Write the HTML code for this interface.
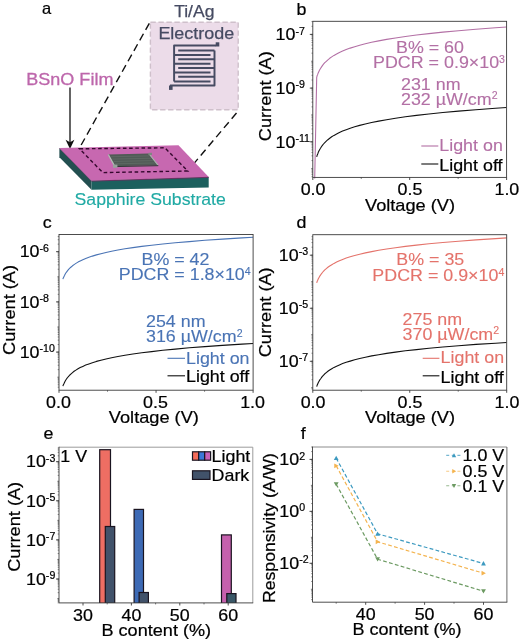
<!DOCTYPE html>
<html><head><meta charset="utf-8"><title>Figure</title>
<style>html,body{margin:0;padding:0;background:#fff}svg{display:block}text{font-family:"Liberation Sans",Arial,sans-serif}</style>
</head><body>
<svg width="520" height="641" viewBox="0 0 520 641">
<rect width="520" height="641" fill="#fff"/>
<clipPath id="cb"><rect x="312.8" y="21.3" width="193.8" height="157.1"/></clipPath><g clip-path="url(#cb)">
<polyline points="314.7,179.4 316.7,77.3 317.1,75.8 317.7,74.4 318.2,72.9 318.9,71.4 319.6,70.0 320.5,68.5 321.4,67.1 322.4,65.6 323.5,64.2 324.8,62.7 326.3,61.3 327.9,59.8 329.7,58.3 331.7,56.9 334.0,55.4 336.6,54.0 339.4,52.5 342.6,51.1 346.2,49.6 350.2,48.1 354.7,46.7 359.7,45.2 365.3,43.8 371.6,42.3 378.7,40.9 386.6,39.4 395.5,38.0 405.4,36.5 416.5,35.0 428.9,33.6 442.9,32.1 458.5,30.7 475.9,29.2 495.5,27.8 506.6,27.0" fill="none" stroke="#b370a5" stroke-width="1.1" stroke-linejoin="round"/>
<polyline points="316.7,156.9 317.1,155.4 317.7,154.0 318.2,152.6 318.9,151.1 319.6,149.7 320.5,148.3 321.4,146.8 322.4,145.4 323.5,144.0 324.8,142.6 326.3,141.1 327.9,139.7 329.7,138.3 331.7,136.8 334.0,135.4 336.6,134.0 339.4,132.6 342.6,131.1 346.2,129.7 350.2,128.3 354.7,126.8 359.7,125.4 365.3,124.0 371.6,122.5 378.7,121.1 386.6,119.7 395.5,118.3 405.4,116.8 416.5,115.4 428.9,114.0 442.9,112.5 458.5,111.1 475.9,109.7 495.5,108.2 506.6,107.5" fill="none" stroke="#111" stroke-width="1.1" stroke-linejoin="round"/>
</g>
<rect x="312.8" y="21.3" width="193.8" height="156.1" fill="none" stroke="#3a3a3a" stroke-width="0.9"/>
<line x1="312.8" y1="177.4" x2="312.8" y2="180" stroke="#3a3a3a" stroke-width="0.9"/>
<text x="300.69" y="195.3" font-size="17" fill="#000" stroke="#000" stroke-width="0.22" textLength="24.81" lengthAdjust="spacingAndGlyphs">0.0</text>
<line x1="409.7" y1="177.4" x2="409.7" y2="180" stroke="#3a3a3a" stroke-width="0.9"/>
<text x="397.59" y="195.3" font-size="17" fill="#000" stroke="#000" stroke-width="0.22" textLength="24.81" lengthAdjust="spacingAndGlyphs">0.5</text>
<line x1="506.6" y1="177.4" x2="506.6" y2="180" stroke="#3a3a3a" stroke-width="0.9"/>
<text x="494.49" y="195.3" font-size="17" fill="#000" stroke="#000" stroke-width="0.22" textLength="24.81" lengthAdjust="spacingAndGlyphs">1.0</text>
<line x1="361.25" y1="177.4" x2="361.25" y2="178.9" stroke="#3a3a3a" stroke-width="0.7"/>
<line x1="458.15" y1="177.4" x2="458.15" y2="178.9" stroke="#3a3a3a" stroke-width="0.7"/>
<text x="365" y="210.6" font-size="17" fill="#000" stroke="#000" stroke-width="0.22" textLength="90" lengthAdjust="spacingAndGlyphs">Voltage (V)</text>
<line x1="309.8" y1="34.4" x2="312.8" y2="34.4" stroke="#3a3a3a" stroke-width="0.9"/>
<text x="275.6" y="40.1" font-size="17" fill="#000" stroke="#000" stroke-width="0.22" textLength="19.86" lengthAdjust="spacingAndGlyphs">10</text>
<text x="295.46" y="34.5" font-size="10.6" fill="#000" stroke="#000" stroke-width="0.22" textLength="9.43" lengthAdjust="spacingAndGlyphs">-7</text>
<line x1="309.8" y1="88.1" x2="312.8" y2="88.1" stroke="#3a3a3a" stroke-width="0.9"/>
<text x="275.6" y="93.8" font-size="17" fill="#000" stroke="#000" stroke-width="0.22" textLength="19.86" lengthAdjust="spacingAndGlyphs">10</text>
<text x="295.46" y="88.2" font-size="10.6" fill="#000" stroke="#000" stroke-width="0.22" textLength="9.43" lengthAdjust="spacingAndGlyphs">-9</text>
<line x1="309.8" y1="141.8" x2="312.8" y2="141.8" stroke="#3a3a3a" stroke-width="0.9"/>
<text x="275.6" y="147.5" font-size="17" fill="#000" stroke="#000" stroke-width="0.22" textLength="19.86" lengthAdjust="spacingAndGlyphs">10</text>
<text x="295.46" y="141.9" font-size="10.6" fill="#000" stroke="#000" stroke-width="0.22" textLength="14.53" lengthAdjust="spacingAndGlyphs">-11</text>
<line x1="311.5" y1="26.32" x2="312.8" y2="26.32" stroke="#3a3a3a" stroke-width="0.6"/>
<line x1="311.5" y1="21.59" x2="312.8" y2="21.59" stroke="#3a3a3a" stroke-width="0.6"/>
<line x1="311.2" y1="34.4" x2="312.8" y2="34.4" stroke="#3a3a3a" stroke-width="0.7"/>
<line x1="311.5" y1="53.17" x2="312.8" y2="53.17" stroke="#3a3a3a" stroke-width="0.6"/>
<line x1="311.5" y1="48.44" x2="312.8" y2="48.44" stroke="#3a3a3a" stroke-width="0.6"/>
<line x1="311.5" y1="45.08" x2="312.8" y2="45.08" stroke="#3a3a3a" stroke-width="0.6"/>
<line x1="311.5" y1="42.48" x2="312.8" y2="42.48" stroke="#3a3a3a" stroke-width="0.6"/>
<line x1="311.5" y1="40.36" x2="312.8" y2="40.36" stroke="#3a3a3a" stroke-width="0.6"/>
<line x1="311.5" y1="38.56" x2="312.8" y2="38.56" stroke="#3a3a3a" stroke-width="0.6"/>
<line x1="311.5" y1="37" x2="312.8" y2="37" stroke="#3a3a3a" stroke-width="0.6"/>
<line x1="311.5" y1="35.63" x2="312.8" y2="35.63" stroke="#3a3a3a" stroke-width="0.6"/>
<line x1="311.2" y1="61.25" x2="312.8" y2="61.25" stroke="#3a3a3a" stroke-width="0.7"/>
<line x1="311.5" y1="80.02" x2="312.8" y2="80.02" stroke="#3a3a3a" stroke-width="0.6"/>
<line x1="311.5" y1="75.29" x2="312.8" y2="75.29" stroke="#3a3a3a" stroke-width="0.6"/>
<line x1="311.5" y1="71.93" x2="312.8" y2="71.93" stroke="#3a3a3a" stroke-width="0.6"/>
<line x1="311.5" y1="69.33" x2="312.8" y2="69.33" stroke="#3a3a3a" stroke-width="0.6"/>
<line x1="311.5" y1="67.21" x2="312.8" y2="67.21" stroke="#3a3a3a" stroke-width="0.6"/>
<line x1="311.5" y1="65.41" x2="312.8" y2="65.41" stroke="#3a3a3a" stroke-width="0.6"/>
<line x1="311.5" y1="63.85" x2="312.8" y2="63.85" stroke="#3a3a3a" stroke-width="0.6"/>
<line x1="311.5" y1="62.48" x2="312.8" y2="62.48" stroke="#3a3a3a" stroke-width="0.6"/>
<line x1="311.2" y1="88.1" x2="312.8" y2="88.1" stroke="#3a3a3a" stroke-width="0.7"/>
<line x1="311.5" y1="106.87" x2="312.8" y2="106.87" stroke="#3a3a3a" stroke-width="0.6"/>
<line x1="311.5" y1="102.14" x2="312.8" y2="102.14" stroke="#3a3a3a" stroke-width="0.6"/>
<line x1="311.5" y1="98.78" x2="312.8" y2="98.78" stroke="#3a3a3a" stroke-width="0.6"/>
<line x1="311.5" y1="96.18" x2="312.8" y2="96.18" stroke="#3a3a3a" stroke-width="0.6"/>
<line x1="311.5" y1="94.06" x2="312.8" y2="94.06" stroke="#3a3a3a" stroke-width="0.6"/>
<line x1="311.5" y1="92.26" x2="312.8" y2="92.26" stroke="#3a3a3a" stroke-width="0.6"/>
<line x1="311.5" y1="90.7" x2="312.8" y2="90.7" stroke="#3a3a3a" stroke-width="0.6"/>
<line x1="311.5" y1="89.33" x2="312.8" y2="89.33" stroke="#3a3a3a" stroke-width="0.6"/>
<line x1="311.2" y1="114.95" x2="312.8" y2="114.95" stroke="#3a3a3a" stroke-width="0.7"/>
<line x1="311.5" y1="133.72" x2="312.8" y2="133.72" stroke="#3a3a3a" stroke-width="0.6"/>
<line x1="311.5" y1="128.99" x2="312.8" y2="128.99" stroke="#3a3a3a" stroke-width="0.6"/>
<line x1="311.5" y1="125.63" x2="312.8" y2="125.63" stroke="#3a3a3a" stroke-width="0.6"/>
<line x1="311.5" y1="123.03" x2="312.8" y2="123.03" stroke="#3a3a3a" stroke-width="0.6"/>
<line x1="311.5" y1="120.91" x2="312.8" y2="120.91" stroke="#3a3a3a" stroke-width="0.6"/>
<line x1="311.5" y1="119.11" x2="312.8" y2="119.11" stroke="#3a3a3a" stroke-width="0.6"/>
<line x1="311.5" y1="117.55" x2="312.8" y2="117.55" stroke="#3a3a3a" stroke-width="0.6"/>
<line x1="311.5" y1="116.18" x2="312.8" y2="116.18" stroke="#3a3a3a" stroke-width="0.6"/>
<line x1="311.2" y1="141.8" x2="312.8" y2="141.8" stroke="#3a3a3a" stroke-width="0.7"/>
<line x1="311.5" y1="160.57" x2="312.8" y2="160.57" stroke="#3a3a3a" stroke-width="0.6"/>
<line x1="311.5" y1="155.84" x2="312.8" y2="155.84" stroke="#3a3a3a" stroke-width="0.6"/>
<line x1="311.5" y1="152.48" x2="312.8" y2="152.48" stroke="#3a3a3a" stroke-width="0.6"/>
<line x1="311.5" y1="149.88" x2="312.8" y2="149.88" stroke="#3a3a3a" stroke-width="0.6"/>
<line x1="311.5" y1="147.76" x2="312.8" y2="147.76" stroke="#3a3a3a" stroke-width="0.6"/>
<line x1="311.5" y1="145.96" x2="312.8" y2="145.96" stroke="#3a3a3a" stroke-width="0.6"/>
<line x1="311.5" y1="144.4" x2="312.8" y2="144.4" stroke="#3a3a3a" stroke-width="0.6"/>
<line x1="311.5" y1="143.03" x2="312.8" y2="143.03" stroke="#3a3a3a" stroke-width="0.6"/>
<line x1="311.2" y1="168.65" x2="312.8" y2="168.65" stroke="#3a3a3a" stroke-width="0.7"/>
<line x1="311.5" y1="176.73" x2="312.8" y2="176.73" stroke="#3a3a3a" stroke-width="0.6"/>
<line x1="311.5" y1="174.61" x2="312.8" y2="174.61" stroke="#3a3a3a" stroke-width="0.6"/>
<line x1="311.5" y1="172.81" x2="312.8" y2="172.81" stroke="#3a3a3a" stroke-width="0.6"/>
<line x1="311.5" y1="171.25" x2="312.8" y2="171.25" stroke="#3a3a3a" stroke-width="0.6"/>
<line x1="311.5" y1="169.88" x2="312.8" y2="169.88" stroke="#3a3a3a" stroke-width="0.6"/>
<text x="226.32" y="96.2" font-size="17" fill="#000" stroke="#000" stroke-width="0.22" textLength="89.96" lengthAdjust="spacingAndGlyphs" transform="rotate(-90 271.3 96.2)">Current (A)</text>
<text x="296.5" y="14.5" font-size="17" fill="#000" stroke="#000" stroke-width="0.22" textLength="9.93" lengthAdjust="spacingAndGlyphs">b</text>
<text x="396.01" y="52.6" font-size="17" fill="#b370a5" stroke="#b370a5" stroke-width="0.12" textLength="67.98" lengthAdjust="spacingAndGlyphs">B% = 60</text>
<text x="373.09" y="68.2" font-size="17" fill="#b370a5" stroke="#b370a5" stroke-width="0.12" textLength="126.02" lengthAdjust="spacingAndGlyphs">PDCR = 0.9×10</text>
<text x="499.1" y="62.6" font-size="10.6" fill="#b370a5" stroke="#b370a5" stroke-width="0.12" textLength="5.9" lengthAdjust="spacingAndGlyphs">3</text>
<text x="401" y="89.8" font-size="17" fill="#b370a5" stroke="#b370a5" stroke-width="0.12" textLength="59.54" lengthAdjust="spacingAndGlyphs">231 nm</text>
<text x="401" y="104.6" font-size="17" fill="#b370a5" stroke="#b370a5" stroke-width="0.12" textLength="90.63" lengthAdjust="spacingAndGlyphs">232 µW/cm</text>
<text x="491.63" y="99" font-size="10.6" fill="#b370a5" stroke="#b370a5" stroke-width="0.12" textLength="5.9" lengthAdjust="spacingAndGlyphs">2</text>
<line x1="421.3" y1="146" x2="438.3" y2="146" stroke="#b370a5" stroke-width="1.1"/>
<text x="439.3" y="151.2" font-size="17" fill="#b370a5" stroke="#b370a5" stroke-width="0.12" textLength="63.52" lengthAdjust="spacingAndGlyphs">Light on</text>
<line x1="421.3" y1="164" x2="438.3" y2="164" stroke="#111" stroke-width="1.1"/>
<text x="439.3" y="170.5" font-size="17" fill="#000" stroke="#000" stroke-width="0.22" textLength="63.19" lengthAdjust="spacingAndGlyphs">Light off</text>
<clipPath id="cc"><rect x="59" y="234.5" width="194.1" height="155.7"/></clipPath><g clip-path="url(#cc)">
<polyline points="62.9,279.1 63.3,277.9 63.9,276.7 64.5,275.5 65.1,274.2 65.8,273.0 66.7,271.8 67.6,270.6 68.6,269.4 69.8,268.2 71.1,267.0 72.5,265.8 74.1,264.6 75.9,263.4 78.0,262.1 80.2,260.9 82.8,259.7 85.7,258.5 88.9,257.3 92.4,256.1 96.4,254.9 100.9,253.7 106.0,252.5 111.6,251.2 117.9,250.0 125.0,248.8 132.9,247.6 141.8,246.4 151.7,245.2 162.8,244.0 175.3,242.8 189.3,241.6 204.9,240.3 222.4,239.1 242.0,237.9 253.1,237.3" fill="none" stroke="#4a74b5" stroke-width="1.1" stroke-linejoin="round"/>
<polyline points="62.9,386.1 63.3,384.9 63.9,383.7 64.5,382.4 65.1,381.2 65.8,380.0 66.7,378.7 67.6,377.5 68.6,376.3 69.8,375.0 71.1,373.8 72.5,372.6 74.1,371.3 75.9,370.1 78.0,368.8 80.2,367.6 82.8,366.4 85.7,365.1 88.9,363.9 92.4,362.7 96.4,361.4 100.9,360.2 106.0,359.0 111.6,357.7 117.9,356.5 125.0,355.3 132.9,354.0 141.8,352.8 151.7,351.6 162.8,350.3 175.3,349.1 189.3,347.8 204.9,346.6 222.4,345.4 242.0,344.1 253.1,343.5" fill="none" stroke="#111" stroke-width="1.1" stroke-linejoin="round"/>
</g>
<rect x="59" y="234.5" width="194.1" height="155.7" fill="none" stroke="#3a3a3a" stroke-width="0.9"/>
<line x1="59" y1="390.2" x2="59" y2="392.8" stroke="#3a3a3a" stroke-width="0.9"/>
<text x="46.09" y="408.1" font-size="17" fill="#000" stroke="#000" stroke-width="0.22" textLength="24.81" lengthAdjust="spacingAndGlyphs">0.0</text>
<line x1="156.05" y1="390.2" x2="156.05" y2="392.8" stroke="#3a3a3a" stroke-width="0.9"/>
<text x="143.14" y="408.1" font-size="17" fill="#000" stroke="#000" stroke-width="0.22" textLength="24.81" lengthAdjust="spacingAndGlyphs">0.5</text>
<line x1="253.1" y1="390.2" x2="253.1" y2="392.8" stroke="#3a3a3a" stroke-width="0.9"/>
<text x="240.19" y="408.1" font-size="17" fill="#000" stroke="#000" stroke-width="0.22" textLength="24.81" lengthAdjust="spacingAndGlyphs">1.0</text>
<line x1="107.53" y1="390.2" x2="107.53" y2="391.7" stroke="#3a3a3a" stroke-width="0.7"/>
<line x1="204.57" y1="390.2" x2="204.57" y2="391.7" stroke="#3a3a3a" stroke-width="0.7"/>
<text x="108.85" y="423.4" font-size="17" fill="#000" stroke="#000" stroke-width="0.22" textLength="90" lengthAdjust="spacingAndGlyphs">Voltage (V)</text>
<line x1="56" y1="251.7" x2="59" y2="251.7" stroke="#3a3a3a" stroke-width="0.9"/>
<text x="19.7" y="257.4" font-size="17" fill="#000" stroke="#000" stroke-width="0.22" textLength="19.86" lengthAdjust="spacingAndGlyphs">10</text>
<text x="39.56" y="251.8" font-size="10.6" fill="#000" stroke="#000" stroke-width="0.22" textLength="9.43" lengthAdjust="spacingAndGlyphs">-6</text>
<line x1="56" y1="301.9" x2="59" y2="301.9" stroke="#3a3a3a" stroke-width="0.9"/>
<text x="19.7" y="307.6" font-size="17" fill="#000" stroke="#000" stroke-width="0.22" textLength="19.86" lengthAdjust="spacingAndGlyphs">10</text>
<text x="39.56" y="302" font-size="10.6" fill="#000" stroke="#000" stroke-width="0.22" textLength="9.43" lengthAdjust="spacingAndGlyphs">-8</text>
<line x1="56" y1="352.1" x2="59" y2="352.1" stroke="#3a3a3a" stroke-width="0.9"/>
<text x="19.7" y="357.8" font-size="17" fill="#000" stroke="#000" stroke-width="0.22" textLength="19.86" lengthAdjust="spacingAndGlyphs">10</text>
<text x="39.56" y="352.2" font-size="10.6" fill="#000" stroke="#000" stroke-width="0.22" textLength="15.32" lengthAdjust="spacingAndGlyphs">-10</text>
<line x1="57.7" y1="244.14" x2="59" y2="244.14" stroke="#3a3a3a" stroke-width="0.6"/>
<line x1="57.7" y1="239.72" x2="59" y2="239.72" stroke="#3a3a3a" stroke-width="0.6"/>
<line x1="57.7" y1="236.59" x2="59" y2="236.59" stroke="#3a3a3a" stroke-width="0.6"/>
<line x1="57.4" y1="251.7" x2="59" y2="251.7" stroke="#3a3a3a" stroke-width="0.7"/>
<line x1="57.7" y1="269.24" x2="59" y2="269.24" stroke="#3a3a3a" stroke-width="0.6"/>
<line x1="57.7" y1="264.82" x2="59" y2="264.82" stroke="#3a3a3a" stroke-width="0.6"/>
<line x1="57.7" y1="261.69" x2="59" y2="261.69" stroke="#3a3a3a" stroke-width="0.6"/>
<line x1="57.7" y1="259.26" x2="59" y2="259.26" stroke="#3a3a3a" stroke-width="0.6"/>
<line x1="57.7" y1="257.27" x2="59" y2="257.27" stroke="#3a3a3a" stroke-width="0.6"/>
<line x1="57.7" y1="255.59" x2="59" y2="255.59" stroke="#3a3a3a" stroke-width="0.6"/>
<line x1="57.7" y1="254.13" x2="59" y2="254.13" stroke="#3a3a3a" stroke-width="0.6"/>
<line x1="57.7" y1="252.85" x2="59" y2="252.85" stroke="#3a3a3a" stroke-width="0.6"/>
<line x1="57.4" y1="276.8" x2="59" y2="276.8" stroke="#3a3a3a" stroke-width="0.7"/>
<line x1="57.7" y1="294.34" x2="59" y2="294.34" stroke="#3a3a3a" stroke-width="0.6"/>
<line x1="57.7" y1="289.92" x2="59" y2="289.92" stroke="#3a3a3a" stroke-width="0.6"/>
<line x1="57.7" y1="286.79" x2="59" y2="286.79" stroke="#3a3a3a" stroke-width="0.6"/>
<line x1="57.7" y1="284.36" x2="59" y2="284.36" stroke="#3a3a3a" stroke-width="0.6"/>
<line x1="57.7" y1="282.37" x2="59" y2="282.37" stroke="#3a3a3a" stroke-width="0.6"/>
<line x1="57.7" y1="280.69" x2="59" y2="280.69" stroke="#3a3a3a" stroke-width="0.6"/>
<line x1="57.7" y1="279.23" x2="59" y2="279.23" stroke="#3a3a3a" stroke-width="0.6"/>
<line x1="57.7" y1="277.95" x2="59" y2="277.95" stroke="#3a3a3a" stroke-width="0.6"/>
<line x1="57.4" y1="301.9" x2="59" y2="301.9" stroke="#3a3a3a" stroke-width="0.7"/>
<line x1="57.7" y1="319.44" x2="59" y2="319.44" stroke="#3a3a3a" stroke-width="0.6"/>
<line x1="57.7" y1="315.02" x2="59" y2="315.02" stroke="#3a3a3a" stroke-width="0.6"/>
<line x1="57.7" y1="311.89" x2="59" y2="311.89" stroke="#3a3a3a" stroke-width="0.6"/>
<line x1="57.7" y1="309.46" x2="59" y2="309.46" stroke="#3a3a3a" stroke-width="0.6"/>
<line x1="57.7" y1="307.47" x2="59" y2="307.47" stroke="#3a3a3a" stroke-width="0.6"/>
<line x1="57.7" y1="305.79" x2="59" y2="305.79" stroke="#3a3a3a" stroke-width="0.6"/>
<line x1="57.7" y1="304.33" x2="59" y2="304.33" stroke="#3a3a3a" stroke-width="0.6"/>
<line x1="57.7" y1="303.05" x2="59" y2="303.05" stroke="#3a3a3a" stroke-width="0.6"/>
<line x1="57.4" y1="327" x2="59" y2="327" stroke="#3a3a3a" stroke-width="0.7"/>
<line x1="57.7" y1="344.54" x2="59" y2="344.54" stroke="#3a3a3a" stroke-width="0.6"/>
<line x1="57.7" y1="340.12" x2="59" y2="340.12" stroke="#3a3a3a" stroke-width="0.6"/>
<line x1="57.7" y1="336.99" x2="59" y2="336.99" stroke="#3a3a3a" stroke-width="0.6"/>
<line x1="57.7" y1="334.56" x2="59" y2="334.56" stroke="#3a3a3a" stroke-width="0.6"/>
<line x1="57.7" y1="332.57" x2="59" y2="332.57" stroke="#3a3a3a" stroke-width="0.6"/>
<line x1="57.7" y1="330.89" x2="59" y2="330.89" stroke="#3a3a3a" stroke-width="0.6"/>
<line x1="57.7" y1="329.43" x2="59" y2="329.43" stroke="#3a3a3a" stroke-width="0.6"/>
<line x1="57.7" y1="328.15" x2="59" y2="328.15" stroke="#3a3a3a" stroke-width="0.6"/>
<line x1="57.4" y1="352.1" x2="59" y2="352.1" stroke="#3a3a3a" stroke-width="0.7"/>
<line x1="57.7" y1="369.64" x2="59" y2="369.64" stroke="#3a3a3a" stroke-width="0.6"/>
<line x1="57.7" y1="365.22" x2="59" y2="365.22" stroke="#3a3a3a" stroke-width="0.6"/>
<line x1="57.7" y1="362.09" x2="59" y2="362.09" stroke="#3a3a3a" stroke-width="0.6"/>
<line x1="57.7" y1="359.66" x2="59" y2="359.66" stroke="#3a3a3a" stroke-width="0.6"/>
<line x1="57.7" y1="357.67" x2="59" y2="357.67" stroke="#3a3a3a" stroke-width="0.6"/>
<line x1="57.7" y1="355.99" x2="59" y2="355.99" stroke="#3a3a3a" stroke-width="0.6"/>
<line x1="57.7" y1="354.53" x2="59" y2="354.53" stroke="#3a3a3a" stroke-width="0.6"/>
<line x1="57.7" y1="353.25" x2="59" y2="353.25" stroke="#3a3a3a" stroke-width="0.6"/>
<line x1="57.4" y1="377.2" x2="59" y2="377.2" stroke="#3a3a3a" stroke-width="0.7"/>
<line x1="57.7" y1="387.19" x2="59" y2="387.19" stroke="#3a3a3a" stroke-width="0.6"/>
<line x1="57.7" y1="384.76" x2="59" y2="384.76" stroke="#3a3a3a" stroke-width="0.6"/>
<line x1="57.7" y1="382.77" x2="59" y2="382.77" stroke="#3a3a3a" stroke-width="0.6"/>
<line x1="57.7" y1="381.09" x2="59" y2="381.09" stroke="#3a3a3a" stroke-width="0.6"/>
<line x1="57.7" y1="379.63" x2="59" y2="379.63" stroke="#3a3a3a" stroke-width="0.6"/>
<line x1="57.7" y1="378.35" x2="59" y2="378.35" stroke="#3a3a3a" stroke-width="0.6"/>
<text x="-29.78" y="310" font-size="17" fill="#000" stroke="#000" stroke-width="0.22" textLength="89.96" lengthAdjust="spacingAndGlyphs" transform="rotate(-90 15.2 310)">Current (A)</text>
<text x="42.7" y="227.7" font-size="17" fill="#000" stroke="#000" stroke-width="0.22" textLength="8.93" lengthAdjust="spacingAndGlyphs">c</text>
<text x="141.51" y="264.6" font-size="17" fill="#4a74b5" stroke="#4a74b5" stroke-width="0.12" textLength="67.98" lengthAdjust="spacingAndGlyphs">B% = 42</text>
<text x="118.79" y="280.3" font-size="17" fill="#4a74b5" stroke="#4a74b5" stroke-width="0.12" textLength="126.02" lengthAdjust="spacingAndGlyphs">PDCR = 1.8×10</text>
<text x="244.8" y="274.7" font-size="10.6" fill="#4a74b5" stroke="#4a74b5" stroke-width="0.12" textLength="5.9" lengthAdjust="spacingAndGlyphs">4</text>
<text x="146" y="327" font-size="17" fill="#4a74b5" stroke="#4a74b5" stroke-width="0.12" textLength="59.54" lengthAdjust="spacingAndGlyphs">254 nm</text>
<text x="146" y="342.2" font-size="17" fill="#4a74b5" stroke="#4a74b5" stroke-width="0.12" textLength="90.63" lengthAdjust="spacingAndGlyphs">316 µW/cm</text>
<text x="236.63" y="336.6" font-size="10.6" fill="#4a74b5" stroke="#4a74b5" stroke-width="0.12" textLength="5.9" lengthAdjust="spacingAndGlyphs">2</text>
<line x1="167.5" y1="358.3" x2="185" y2="358.3" stroke="#4a74b5" stroke-width="1.1"/>
<text x="186" y="363.6" font-size="17" fill="#4a74b5" stroke="#4a74b5" stroke-width="0.12" textLength="63.52" lengthAdjust="spacingAndGlyphs">Light on</text>
<line x1="167.5" y1="375.8" x2="185" y2="375.8" stroke="#111" stroke-width="1.1"/>
<text x="186" y="382.4" font-size="17" fill="#000" stroke="#000" stroke-width="0.22" textLength="63.19" lengthAdjust="spacingAndGlyphs">Light off</text>
<clipPath id="cd"><rect x="312.8" y="234.7" width="193.9" height="155.5"/></clipPath><g clip-path="url(#cd)">
<polyline points="316.7,282.9 317.1,281.6 317.7,280.3 318.2,279.0 318.9,277.7 319.6,276.4 320.5,275.1 321.4,273.8 322.4,272.5 323.6,271.2 324.8,269.9 326.3,268.6 327.9,267.3 329.7,266.0 331.8,264.7 334.0,263.4 336.6,262.1 339.4,260.7 342.6,259.4 346.2,258.1 350.2,256.8 354.7,255.5 359.7,254.2 365.4,252.9 371.7,251.6 378.7,250.3 386.6,249.0 395.5,247.7 405.4,246.4 416.5,245.1 429.0,243.8 442.9,242.5 458.5,241.2 476.0,239.9 495.6,238.6 506.7,237.9" fill="none" stroke="#e4736b" stroke-width="1.1" stroke-linejoin="round"/>
<polyline points="316.7,386.6 317.1,385.3 317.7,384.1 318.2,382.8 318.9,381.5 319.6,380.2 320.5,379.0 321.4,377.7 322.4,376.4 323.6,375.1 324.8,373.8 326.3,372.6 327.9,371.3 329.7,370.0 331.8,368.7 334.0,367.4 336.6,366.2 339.4,364.9 342.6,363.6 346.2,362.3 350.2,361.1 354.7,359.8 359.7,358.5 365.4,357.2 371.7,355.9 378.7,354.7 386.6,353.4 395.5,352.1 405.4,350.8 416.5,349.6 429.0,348.3 442.9,347.0 458.5,345.7 476.0,344.4 495.6,343.2 506.7,342.5" fill="none" stroke="#111" stroke-width="1.1" stroke-linejoin="round"/>
</g>
<rect x="312.8" y="234.7" width="193.9" height="155.5" fill="none" stroke="#3a3a3a" stroke-width="0.9"/>
<line x1="312.8" y1="390.2" x2="312.8" y2="392.8" stroke="#3a3a3a" stroke-width="0.9"/>
<text x="300.69" y="408.1" font-size="17" fill="#000" stroke="#000" stroke-width="0.22" textLength="24.81" lengthAdjust="spacingAndGlyphs">0.0</text>
<line x1="409.75" y1="390.2" x2="409.75" y2="392.8" stroke="#3a3a3a" stroke-width="0.9"/>
<text x="397.64" y="408.1" font-size="17" fill="#000" stroke="#000" stroke-width="0.22" textLength="24.81" lengthAdjust="spacingAndGlyphs">0.5</text>
<line x1="506.7" y1="390.2" x2="506.7" y2="392.8" stroke="#3a3a3a" stroke-width="0.9"/>
<text x="494.59" y="408.1" font-size="17" fill="#000" stroke="#000" stroke-width="0.22" textLength="24.81" lengthAdjust="spacingAndGlyphs">1.0</text>
<line x1="361.27" y1="390.2" x2="361.27" y2="391.7" stroke="#3a3a3a" stroke-width="0.7"/>
<line x1="458.23" y1="390.2" x2="458.23" y2="391.7" stroke="#3a3a3a" stroke-width="0.7"/>
<text x="365.05" y="423.4" font-size="17" fill="#000" stroke="#000" stroke-width="0.22" textLength="90" lengthAdjust="spacingAndGlyphs">Voltage (V)</text>
<line x1="309.8" y1="255.2" x2="312.8" y2="255.2" stroke="#3a3a3a" stroke-width="0.9"/>
<text x="278.8" y="260.9" font-size="17" fill="#000" stroke="#000" stroke-width="0.22" textLength="19.86" lengthAdjust="spacingAndGlyphs">10</text>
<text x="298.66" y="255.3" font-size="10.6" fill="#000" stroke="#000" stroke-width="0.22" textLength="9.43" lengthAdjust="spacingAndGlyphs">-3</text>
<line x1="309.8" y1="308.25" x2="312.8" y2="308.25" stroke="#3a3a3a" stroke-width="0.9"/>
<text x="278.8" y="313.95" font-size="17" fill="#000" stroke="#000" stroke-width="0.22" textLength="19.86" lengthAdjust="spacingAndGlyphs">10</text>
<text x="298.66" y="308.35" font-size="10.6" fill="#000" stroke="#000" stroke-width="0.22" textLength="9.43" lengthAdjust="spacingAndGlyphs">-5</text>
<line x1="309.8" y1="361.3" x2="312.8" y2="361.3" stroke="#3a3a3a" stroke-width="0.9"/>
<text x="278.8" y="367" font-size="17" fill="#000" stroke="#000" stroke-width="0.22" textLength="19.86" lengthAdjust="spacingAndGlyphs">10</text>
<text x="298.66" y="361.4" font-size="10.6" fill="#000" stroke="#000" stroke-width="0.22" textLength="9.43" lengthAdjust="spacingAndGlyphs">-7</text>
<line x1="311.5" y1="247.22" x2="312.8" y2="247.22" stroke="#3a3a3a" stroke-width="0.6"/>
<line x1="311.5" y1="242.56" x2="312.8" y2="242.56" stroke="#3a3a3a" stroke-width="0.6"/>
<line x1="311.5" y1="239.25" x2="312.8" y2="239.25" stroke="#3a3a3a" stroke-width="0.6"/>
<line x1="311.5" y1="236.68" x2="312.8" y2="236.68" stroke="#3a3a3a" stroke-width="0.6"/>
<line x1="311.2" y1="255.2" x2="312.8" y2="255.2" stroke="#3a3a3a" stroke-width="0.7"/>
<line x1="311.5" y1="273.72" x2="312.8" y2="273.72" stroke="#3a3a3a" stroke-width="0.6"/>
<line x1="311.5" y1="269.06" x2="312.8" y2="269.06" stroke="#3a3a3a" stroke-width="0.6"/>
<line x1="311.5" y1="265.75" x2="312.8" y2="265.75" stroke="#3a3a3a" stroke-width="0.6"/>
<line x1="311.5" y1="263.18" x2="312.8" y2="263.18" stroke="#3a3a3a" stroke-width="0.6"/>
<line x1="311.5" y1="261.08" x2="312.8" y2="261.08" stroke="#3a3a3a" stroke-width="0.6"/>
<line x1="311.5" y1="259.3" x2="312.8" y2="259.3" stroke="#3a3a3a" stroke-width="0.6"/>
<line x1="311.5" y1="257.77" x2="312.8" y2="257.77" stroke="#3a3a3a" stroke-width="0.6"/>
<line x1="311.5" y1="256.41" x2="312.8" y2="256.41" stroke="#3a3a3a" stroke-width="0.6"/>
<line x1="311.2" y1="281.7" x2="312.8" y2="281.7" stroke="#3a3a3a" stroke-width="0.7"/>
<line x1="311.5" y1="300.22" x2="312.8" y2="300.22" stroke="#3a3a3a" stroke-width="0.6"/>
<line x1="311.5" y1="295.56" x2="312.8" y2="295.56" stroke="#3a3a3a" stroke-width="0.6"/>
<line x1="311.5" y1="292.25" x2="312.8" y2="292.25" stroke="#3a3a3a" stroke-width="0.6"/>
<line x1="311.5" y1="289.68" x2="312.8" y2="289.68" stroke="#3a3a3a" stroke-width="0.6"/>
<line x1="311.5" y1="287.58" x2="312.8" y2="287.58" stroke="#3a3a3a" stroke-width="0.6"/>
<line x1="311.5" y1="285.8" x2="312.8" y2="285.8" stroke="#3a3a3a" stroke-width="0.6"/>
<line x1="311.5" y1="284.27" x2="312.8" y2="284.27" stroke="#3a3a3a" stroke-width="0.6"/>
<line x1="311.5" y1="282.91" x2="312.8" y2="282.91" stroke="#3a3a3a" stroke-width="0.6"/>
<line x1="311.2" y1="308.2" x2="312.8" y2="308.2" stroke="#3a3a3a" stroke-width="0.7"/>
<line x1="311.5" y1="326.72" x2="312.8" y2="326.72" stroke="#3a3a3a" stroke-width="0.6"/>
<line x1="311.5" y1="322.06" x2="312.8" y2="322.06" stroke="#3a3a3a" stroke-width="0.6"/>
<line x1="311.5" y1="318.75" x2="312.8" y2="318.75" stroke="#3a3a3a" stroke-width="0.6"/>
<line x1="311.5" y1="316.18" x2="312.8" y2="316.18" stroke="#3a3a3a" stroke-width="0.6"/>
<line x1="311.5" y1="314.08" x2="312.8" y2="314.08" stroke="#3a3a3a" stroke-width="0.6"/>
<line x1="311.5" y1="312.3" x2="312.8" y2="312.3" stroke="#3a3a3a" stroke-width="0.6"/>
<line x1="311.5" y1="310.77" x2="312.8" y2="310.77" stroke="#3a3a3a" stroke-width="0.6"/>
<line x1="311.5" y1="309.41" x2="312.8" y2="309.41" stroke="#3a3a3a" stroke-width="0.6"/>
<line x1="311.2" y1="334.7" x2="312.8" y2="334.7" stroke="#3a3a3a" stroke-width="0.7"/>
<line x1="311.5" y1="353.22" x2="312.8" y2="353.22" stroke="#3a3a3a" stroke-width="0.6"/>
<line x1="311.5" y1="348.56" x2="312.8" y2="348.56" stroke="#3a3a3a" stroke-width="0.6"/>
<line x1="311.5" y1="345.25" x2="312.8" y2="345.25" stroke="#3a3a3a" stroke-width="0.6"/>
<line x1="311.5" y1="342.68" x2="312.8" y2="342.68" stroke="#3a3a3a" stroke-width="0.6"/>
<line x1="311.5" y1="340.58" x2="312.8" y2="340.58" stroke="#3a3a3a" stroke-width="0.6"/>
<line x1="311.5" y1="338.8" x2="312.8" y2="338.8" stroke="#3a3a3a" stroke-width="0.6"/>
<line x1="311.5" y1="337.27" x2="312.8" y2="337.27" stroke="#3a3a3a" stroke-width="0.6"/>
<line x1="311.5" y1="335.91" x2="312.8" y2="335.91" stroke="#3a3a3a" stroke-width="0.6"/>
<line x1="311.2" y1="361.2" x2="312.8" y2="361.2" stroke="#3a3a3a" stroke-width="0.7"/>
<line x1="311.5" y1="379.72" x2="312.8" y2="379.72" stroke="#3a3a3a" stroke-width="0.6"/>
<line x1="311.5" y1="375.06" x2="312.8" y2="375.06" stroke="#3a3a3a" stroke-width="0.6"/>
<line x1="311.5" y1="371.75" x2="312.8" y2="371.75" stroke="#3a3a3a" stroke-width="0.6"/>
<line x1="311.5" y1="369.18" x2="312.8" y2="369.18" stroke="#3a3a3a" stroke-width="0.6"/>
<line x1="311.5" y1="367.08" x2="312.8" y2="367.08" stroke="#3a3a3a" stroke-width="0.6"/>
<line x1="311.5" y1="365.3" x2="312.8" y2="365.3" stroke="#3a3a3a" stroke-width="0.6"/>
<line x1="311.5" y1="363.77" x2="312.8" y2="363.77" stroke="#3a3a3a" stroke-width="0.6"/>
<line x1="311.5" y1="362.41" x2="312.8" y2="362.41" stroke="#3a3a3a" stroke-width="0.6"/>
<line x1="311.2" y1="387.7" x2="312.8" y2="387.7" stroke="#3a3a3a" stroke-width="0.7"/>
<line x1="311.5" y1="388.91" x2="312.8" y2="388.91" stroke="#3a3a3a" stroke-width="0.6"/>
<text x="226.32" y="312.3" font-size="17" fill="#000" stroke="#000" stroke-width="0.22" textLength="89.96" lengthAdjust="spacingAndGlyphs" transform="rotate(-90 271.3 312.3)">Current (A)</text>
<text x="296.5" y="227.9" font-size="17" fill="#000" stroke="#000" stroke-width="0.22" textLength="9.93" lengthAdjust="spacingAndGlyphs">d</text>
<text x="396.31" y="265.3" font-size="17" fill="#e4736b" stroke="#e4736b" stroke-width="0.12" textLength="67.98" lengthAdjust="spacingAndGlyphs">B% = 35</text>
<text x="372.39" y="281.3" font-size="17" fill="#e4736b" stroke="#e4736b" stroke-width="0.12" textLength="126.02" lengthAdjust="spacingAndGlyphs">PDCR = 0.9×10</text>
<text x="498.4" y="275.7" font-size="10.6" fill="#e4736b" stroke="#e4736b" stroke-width="0.12" textLength="5.9" lengthAdjust="spacingAndGlyphs">4</text>
<text x="402.6" y="325.2" font-size="17" fill="#e4736b" stroke="#e4736b" stroke-width="0.12" textLength="59.54" lengthAdjust="spacingAndGlyphs">275 nm</text>
<text x="402.6" y="339.9" font-size="17" fill="#e4736b" stroke="#e4736b" stroke-width="0.12" textLength="90.63" lengthAdjust="spacingAndGlyphs">370 µW/cm</text>
<text x="493.23" y="334.3" font-size="10.6" fill="#e4736b" stroke="#e4736b" stroke-width="0.12" textLength="5.9" lengthAdjust="spacingAndGlyphs">2</text>
<line x1="422.7" y1="358.3" x2="439.4" y2="358.3" stroke="#e4736b" stroke-width="1.1"/>
<text x="440.6" y="363.4" font-size="17" fill="#e4736b" stroke="#e4736b" stroke-width="0.12" textLength="63.52" lengthAdjust="spacingAndGlyphs">Light on</text>
<line x1="422.7" y1="375.8" x2="439.4" y2="375.8" stroke="#111" stroke-width="1.1"/>
<text x="440.6" y="382.5" font-size="17" fill="#000" stroke="#000" stroke-width="0.22" textLength="63.19" lengthAdjust="spacingAndGlyphs">Light off</text>
<clipPath id="ce"><rect x="59" y="447.2" width="193.8" height="155.7"/></clipPath><g clip-path="url(#ce)">
<rect x="99.7" y="449.7" width="10.8" height="153.8" fill="#ee6e63" stroke="#1a1420" stroke-width="1.2"/>
<rect x="105.3" y="526.5" width="9.4" height="77" fill="#41526a" stroke="#1a1420" stroke-width="1.2"/>
<rect x="134.1" y="509.4" width="9.4" height="94.1" fill="#3d6ab5" stroke="#1a1420" stroke-width="1.2"/>
<rect x="139.1" y="592.5" width="9.3" height="11" fill="#41526a" stroke="#1a1420" stroke-width="1.2"/>
<rect x="221.5" y="534.9" width="9.8" height="68.6" fill="#c560ad" stroke="#1a1420" stroke-width="1.2"/>
<rect x="226.8" y="593.6" width="9.2" height="9.9" fill="#3a5868" stroke="#1a1420" stroke-width="1.2"/>
</g>
<polyline points="59.0,447.2 252.8,447.2" fill="none" stroke="#9c9c9c" stroke-width="1.0" stroke-linejoin="round"/>
<polyline points="252.8,447.2 252.8,602.9" fill="none" stroke="#9c9c9c" stroke-width="1.0" stroke-linejoin="round"/>
<polyline points="59.0,446.8 59.0,602.9 253.2,602.9" fill="none" stroke="#3a3a3a" stroke-width="0.9" stroke-linejoin="round"/>
<line x1="56" y1="461.7" x2="59" y2="461.7" stroke="#3a3a3a" stroke-width="0.9"/>
<text x="26" y="467.4" font-size="17" fill="#000" stroke="#000" stroke-width="0.22" textLength="19.86" lengthAdjust="spacingAndGlyphs">10</text>
<text x="45.86" y="461.8" font-size="10.6" fill="#000" stroke="#000" stroke-width="0.22" textLength="9.43" lengthAdjust="spacingAndGlyphs">-3</text>
<line x1="56" y1="500.8" x2="59" y2="500.8" stroke="#3a3a3a" stroke-width="0.9"/>
<text x="26" y="506.5" font-size="17" fill="#000" stroke="#000" stroke-width="0.22" textLength="19.86" lengthAdjust="spacingAndGlyphs">10</text>
<text x="45.86" y="500.9" font-size="10.6" fill="#000" stroke="#000" stroke-width="0.22" textLength="9.43" lengthAdjust="spacingAndGlyphs">-5</text>
<line x1="56" y1="539.9" x2="59" y2="539.9" stroke="#3a3a3a" stroke-width="0.9"/>
<text x="26" y="545.6" font-size="17" fill="#000" stroke="#000" stroke-width="0.22" textLength="19.86" lengthAdjust="spacingAndGlyphs">10</text>
<text x="45.86" y="540" font-size="10.6" fill="#000" stroke="#000" stroke-width="0.22" textLength="9.43" lengthAdjust="spacingAndGlyphs">-7</text>
<line x1="56" y1="579" x2="59" y2="579" stroke="#3a3a3a" stroke-width="0.9"/>
<text x="26" y="584.7" font-size="17" fill="#000" stroke="#000" stroke-width="0.22" textLength="19.86" lengthAdjust="spacingAndGlyphs">10</text>
<text x="45.86" y="579.1" font-size="10.6" fill="#000" stroke="#000" stroke-width="0.22" textLength="9.43" lengthAdjust="spacingAndGlyphs">-9</text>
<line x1="57.7" y1="455.81" x2="59" y2="455.81" stroke="#3a3a3a" stroke-width="0.6"/>
<line x1="57.7" y1="452.37" x2="59" y2="452.37" stroke="#3a3a3a" stroke-width="0.6"/>
<line x1="57.7" y1="449.93" x2="59" y2="449.93" stroke="#3a3a3a" stroke-width="0.6"/>
<line x1="57.7" y1="448.04" x2="59" y2="448.04" stroke="#3a3a3a" stroke-width="0.6"/>
<line x1="57.4" y1="461.7" x2="59" y2="461.7" stroke="#3a3a3a" stroke-width="0.7"/>
<line x1="57.7" y1="475.36" x2="59" y2="475.36" stroke="#3a3a3a" stroke-width="0.6"/>
<line x1="57.7" y1="471.92" x2="59" y2="471.92" stroke="#3a3a3a" stroke-width="0.6"/>
<line x1="57.7" y1="469.48" x2="59" y2="469.48" stroke="#3a3a3a" stroke-width="0.6"/>
<line x1="57.7" y1="467.59" x2="59" y2="467.59" stroke="#3a3a3a" stroke-width="0.6"/>
<line x1="57.7" y1="466.04" x2="59" y2="466.04" stroke="#3a3a3a" stroke-width="0.6"/>
<line x1="57.7" y1="464.73" x2="59" y2="464.73" stroke="#3a3a3a" stroke-width="0.6"/>
<line x1="57.7" y1="463.59" x2="59" y2="463.59" stroke="#3a3a3a" stroke-width="0.6"/>
<line x1="57.7" y1="462.59" x2="59" y2="462.59" stroke="#3a3a3a" stroke-width="0.6"/>
<line x1="57.4" y1="481.25" x2="59" y2="481.25" stroke="#3a3a3a" stroke-width="0.7"/>
<line x1="57.7" y1="494.91" x2="59" y2="494.91" stroke="#3a3a3a" stroke-width="0.6"/>
<line x1="57.7" y1="491.47" x2="59" y2="491.47" stroke="#3a3a3a" stroke-width="0.6"/>
<line x1="57.7" y1="489.03" x2="59" y2="489.03" stroke="#3a3a3a" stroke-width="0.6"/>
<line x1="57.7" y1="487.14" x2="59" y2="487.14" stroke="#3a3a3a" stroke-width="0.6"/>
<line x1="57.7" y1="485.59" x2="59" y2="485.59" stroke="#3a3a3a" stroke-width="0.6"/>
<line x1="57.7" y1="484.28" x2="59" y2="484.28" stroke="#3a3a3a" stroke-width="0.6"/>
<line x1="57.7" y1="483.14" x2="59" y2="483.14" stroke="#3a3a3a" stroke-width="0.6"/>
<line x1="57.7" y1="482.14" x2="59" y2="482.14" stroke="#3a3a3a" stroke-width="0.6"/>
<line x1="57.4" y1="500.8" x2="59" y2="500.8" stroke="#3a3a3a" stroke-width="0.7"/>
<line x1="57.7" y1="514.46" x2="59" y2="514.46" stroke="#3a3a3a" stroke-width="0.6"/>
<line x1="57.7" y1="511.02" x2="59" y2="511.02" stroke="#3a3a3a" stroke-width="0.6"/>
<line x1="57.7" y1="508.58" x2="59" y2="508.58" stroke="#3a3a3a" stroke-width="0.6"/>
<line x1="57.7" y1="506.69" x2="59" y2="506.69" stroke="#3a3a3a" stroke-width="0.6"/>
<line x1="57.7" y1="505.14" x2="59" y2="505.14" stroke="#3a3a3a" stroke-width="0.6"/>
<line x1="57.7" y1="503.83" x2="59" y2="503.83" stroke="#3a3a3a" stroke-width="0.6"/>
<line x1="57.7" y1="502.69" x2="59" y2="502.69" stroke="#3a3a3a" stroke-width="0.6"/>
<line x1="57.7" y1="501.69" x2="59" y2="501.69" stroke="#3a3a3a" stroke-width="0.6"/>
<line x1="57.4" y1="520.35" x2="59" y2="520.35" stroke="#3a3a3a" stroke-width="0.7"/>
<line x1="57.7" y1="534.01" x2="59" y2="534.01" stroke="#3a3a3a" stroke-width="0.6"/>
<line x1="57.7" y1="530.57" x2="59" y2="530.57" stroke="#3a3a3a" stroke-width="0.6"/>
<line x1="57.7" y1="528.13" x2="59" y2="528.13" stroke="#3a3a3a" stroke-width="0.6"/>
<line x1="57.7" y1="526.24" x2="59" y2="526.24" stroke="#3a3a3a" stroke-width="0.6"/>
<line x1="57.7" y1="524.69" x2="59" y2="524.69" stroke="#3a3a3a" stroke-width="0.6"/>
<line x1="57.7" y1="523.38" x2="59" y2="523.38" stroke="#3a3a3a" stroke-width="0.6"/>
<line x1="57.7" y1="522.24" x2="59" y2="522.24" stroke="#3a3a3a" stroke-width="0.6"/>
<line x1="57.7" y1="521.24" x2="59" y2="521.24" stroke="#3a3a3a" stroke-width="0.6"/>
<line x1="57.4" y1="539.9" x2="59" y2="539.9" stroke="#3a3a3a" stroke-width="0.7"/>
<line x1="57.7" y1="553.56" x2="59" y2="553.56" stroke="#3a3a3a" stroke-width="0.6"/>
<line x1="57.7" y1="550.12" x2="59" y2="550.12" stroke="#3a3a3a" stroke-width="0.6"/>
<line x1="57.7" y1="547.68" x2="59" y2="547.68" stroke="#3a3a3a" stroke-width="0.6"/>
<line x1="57.7" y1="545.79" x2="59" y2="545.79" stroke="#3a3a3a" stroke-width="0.6"/>
<line x1="57.7" y1="544.24" x2="59" y2="544.24" stroke="#3a3a3a" stroke-width="0.6"/>
<line x1="57.7" y1="542.93" x2="59" y2="542.93" stroke="#3a3a3a" stroke-width="0.6"/>
<line x1="57.7" y1="541.79" x2="59" y2="541.79" stroke="#3a3a3a" stroke-width="0.6"/>
<line x1="57.7" y1="540.79" x2="59" y2="540.79" stroke="#3a3a3a" stroke-width="0.6"/>
<line x1="57.4" y1="559.45" x2="59" y2="559.45" stroke="#3a3a3a" stroke-width="0.7"/>
<line x1="57.7" y1="573.11" x2="59" y2="573.11" stroke="#3a3a3a" stroke-width="0.6"/>
<line x1="57.7" y1="569.67" x2="59" y2="569.67" stroke="#3a3a3a" stroke-width="0.6"/>
<line x1="57.7" y1="567.23" x2="59" y2="567.23" stroke="#3a3a3a" stroke-width="0.6"/>
<line x1="57.7" y1="565.34" x2="59" y2="565.34" stroke="#3a3a3a" stroke-width="0.6"/>
<line x1="57.7" y1="563.79" x2="59" y2="563.79" stroke="#3a3a3a" stroke-width="0.6"/>
<line x1="57.7" y1="562.48" x2="59" y2="562.48" stroke="#3a3a3a" stroke-width="0.6"/>
<line x1="57.7" y1="561.34" x2="59" y2="561.34" stroke="#3a3a3a" stroke-width="0.6"/>
<line x1="57.7" y1="560.34" x2="59" y2="560.34" stroke="#3a3a3a" stroke-width="0.6"/>
<line x1="57.4" y1="579" x2="59" y2="579" stroke="#3a3a3a" stroke-width="0.7"/>
<line x1="57.7" y1="592.66" x2="59" y2="592.66" stroke="#3a3a3a" stroke-width="0.6"/>
<line x1="57.7" y1="589.22" x2="59" y2="589.22" stroke="#3a3a3a" stroke-width="0.6"/>
<line x1="57.7" y1="586.78" x2="59" y2="586.78" stroke="#3a3a3a" stroke-width="0.6"/>
<line x1="57.7" y1="584.89" x2="59" y2="584.89" stroke="#3a3a3a" stroke-width="0.6"/>
<line x1="57.7" y1="583.34" x2="59" y2="583.34" stroke="#3a3a3a" stroke-width="0.6"/>
<line x1="57.7" y1="582.03" x2="59" y2="582.03" stroke="#3a3a3a" stroke-width="0.6"/>
<line x1="57.7" y1="580.89" x2="59" y2="580.89" stroke="#3a3a3a" stroke-width="0.6"/>
<line x1="57.7" y1="579.89" x2="59" y2="579.89" stroke="#3a3a3a" stroke-width="0.6"/>
<line x1="57.4" y1="598.55" x2="59" y2="598.55" stroke="#3a3a3a" stroke-width="0.7"/>
<line x1="57.7" y1="602.89" x2="59" y2="602.89" stroke="#3a3a3a" stroke-width="0.6"/>
<line x1="57.7" y1="601.58" x2="59" y2="601.58" stroke="#3a3a3a" stroke-width="0.6"/>
<line x1="57.7" y1="600.44" x2="59" y2="600.44" stroke="#3a3a3a" stroke-width="0.6"/>
<line x1="57.7" y1="599.44" x2="59" y2="599.44" stroke="#3a3a3a" stroke-width="0.6"/>
<line x1="83" y1="602.9" x2="83" y2="605.5" stroke="#3a3a3a" stroke-width="0.9"/>
<text x="73.07" y="620.9" font-size="17" fill="#000" stroke="#000" stroke-width="0.22" textLength="19.86" lengthAdjust="spacingAndGlyphs">30</text>
<line x1="131.4" y1="602.9" x2="131.4" y2="605.5" stroke="#3a3a3a" stroke-width="0.9"/>
<text x="121.47" y="620.9" font-size="17" fill="#000" stroke="#000" stroke-width="0.22" textLength="19.86" lengthAdjust="spacingAndGlyphs">40</text>
<line x1="179.8" y1="602.9" x2="179.8" y2="605.5" stroke="#3a3a3a" stroke-width="0.9"/>
<text x="169.87" y="620.9" font-size="17" fill="#000" stroke="#000" stroke-width="0.22" textLength="19.86" lengthAdjust="spacingAndGlyphs">50</text>
<line x1="228.2" y1="602.9" x2="228.2" y2="605.5" stroke="#3a3a3a" stroke-width="0.9"/>
<text x="218.27" y="620.9" font-size="17" fill="#000" stroke="#000" stroke-width="0.22" textLength="19.86" lengthAdjust="spacingAndGlyphs">60</text>
<line x1="107.2" y1="602.9" x2="107.2" y2="604.4" stroke="#3a3a3a" stroke-width="0.7"/>
<line x1="155.6" y1="602.9" x2="155.6" y2="604.4" stroke="#3a3a3a" stroke-width="0.7"/>
<line x1="204" y1="602.9" x2="204" y2="604.4" stroke="#3a3a3a" stroke-width="0.7"/>
<text x="101.46" y="636.2" font-size="17" fill="#000" stroke="#000" stroke-width="0.22" textLength="109.68" lengthAdjust="spacingAndGlyphs">B content (%)</text>
<text x="-24.58" y="526.8" font-size="17" fill="#000" stroke="#000" stroke-width="0.22" textLength="89.96" lengthAdjust="spacingAndGlyphs" transform="rotate(-90 20.4 526.8)">Current (A)</text>
<text x="43.6" y="439.2" font-size="17" fill="#000" stroke="#000" stroke-width="0.22" textLength="9.93" lengthAdjust="spacingAndGlyphs">e</text>
<text x="60.3" y="461.7" font-size="17" fill="#000" stroke="#000" stroke-width="0.22" textLength="26.79" lengthAdjust="spacingAndGlyphs">1 V</text>
<rect x="192.5" y="451.8" width="6.2" height="8.4" fill="#f26b5a" stroke="#1a1420" stroke-width="1.2"/>
<rect x="198.7" y="451.8" width="6" height="8.4" fill="#3b78d8" stroke="#1a1420" stroke-width="1.2"/>
<rect x="204.7" y="451.8" width="5.9" height="8.4" fill="#c661b8" stroke="#1a1420" stroke-width="1.2"/>
<text x="211.6" y="461.7" font-size="17" fill="#000" stroke="#000" stroke-width="0.22" textLength="38.71" lengthAdjust="spacingAndGlyphs">Light</text>
<rect x="192.5" y="470.8" width="17.5" height="8.6" fill="#41526a" stroke="#1a1420" stroke-width="1.2"/>
<text x="211.6" y="480.8" font-size="17" fill="#000" stroke="#000" stroke-width="0.22" textLength="37.69" lengthAdjust="spacingAndGlyphs">Dark</text>
<polyline points="312.5,447.0 506.9,447.0" fill="none" stroke="#8c8c8c" stroke-width="1.0" stroke-linejoin="round"/>
<polyline points="506.9,447.0 506.9,602.2" fill="none" stroke="#6a6a6a" stroke-width="1.0" stroke-linejoin="round"/>
<polyline points="312.5,446.6 312.5,602.2 507.3,602.2" fill="none" stroke="#3a3a3a" stroke-width="0.9" stroke-linejoin="round"/>
<line x1="309.5" y1="459.4" x2="312.5" y2="459.4" stroke="#3a3a3a" stroke-width="0.9"/>
<text x="279.3" y="465.1" font-size="17" fill="#000" stroke="#000" stroke-width="0.22" textLength="19.86" lengthAdjust="spacingAndGlyphs">10</text>
<text x="299.16" y="459.5" font-size="10.6" fill="#000" stroke="#000" stroke-width="0.22" textLength="5.9" lengthAdjust="spacingAndGlyphs">2</text>
<line x1="309.5" y1="511.35" x2="312.5" y2="511.35" stroke="#3a3a3a" stroke-width="0.9"/>
<text x="279.3" y="517.05" font-size="17" fill="#000" stroke="#000" stroke-width="0.22" textLength="19.86" lengthAdjust="spacingAndGlyphs">10</text>
<text x="299.16" y="511.45" font-size="10.6" fill="#000" stroke="#000" stroke-width="0.22" textLength="5.9" lengthAdjust="spacingAndGlyphs">0</text>
<line x1="309.5" y1="563.3" x2="312.5" y2="563.3" stroke="#3a3a3a" stroke-width="0.9"/>
<text x="279.3" y="569" font-size="17" fill="#000" stroke="#000" stroke-width="0.22" textLength="19.86" lengthAdjust="spacingAndGlyphs">10</text>
<text x="299.16" y="563.4" font-size="10.6" fill="#000" stroke="#000" stroke-width="0.22" textLength="9.43" lengthAdjust="spacingAndGlyphs">-2</text>
<line x1="311.2" y1="451.58" x2="312.5" y2="451.58" stroke="#3a3a3a" stroke-width="0.6"/>
<line x1="311.2" y1="447" x2="312.5" y2="447" stroke="#3a3a3a" stroke-width="0.6"/>
<line x1="310.9" y1="459.4" x2="312.5" y2="459.4" stroke="#3a3a3a" stroke-width="0.7"/>
<line x1="311.2" y1="477.56" x2="312.5" y2="477.56" stroke="#3a3a3a" stroke-width="0.6"/>
<line x1="311.2" y1="472.98" x2="312.5" y2="472.98" stroke="#3a3a3a" stroke-width="0.6"/>
<line x1="311.2" y1="469.74" x2="312.5" y2="469.74" stroke="#3a3a3a" stroke-width="0.6"/>
<line x1="311.2" y1="467.22" x2="312.5" y2="467.22" stroke="#3a3a3a" stroke-width="0.6"/>
<line x1="311.2" y1="465.16" x2="312.5" y2="465.16" stroke="#3a3a3a" stroke-width="0.6"/>
<line x1="311.2" y1="463.42" x2="312.5" y2="463.42" stroke="#3a3a3a" stroke-width="0.6"/>
<line x1="311.2" y1="461.92" x2="312.5" y2="461.92" stroke="#3a3a3a" stroke-width="0.6"/>
<line x1="311.2" y1="460.59" x2="312.5" y2="460.59" stroke="#3a3a3a" stroke-width="0.6"/>
<line x1="310.9" y1="485.38" x2="312.5" y2="485.38" stroke="#3a3a3a" stroke-width="0.7"/>
<line x1="311.2" y1="503.54" x2="312.5" y2="503.54" stroke="#3a3a3a" stroke-width="0.6"/>
<line x1="311.2" y1="498.96" x2="312.5" y2="498.96" stroke="#3a3a3a" stroke-width="0.6"/>
<line x1="311.2" y1="495.72" x2="312.5" y2="495.72" stroke="#3a3a3a" stroke-width="0.6"/>
<line x1="311.2" y1="493.2" x2="312.5" y2="493.2" stroke="#3a3a3a" stroke-width="0.6"/>
<line x1="311.2" y1="491.14" x2="312.5" y2="491.14" stroke="#3a3a3a" stroke-width="0.6"/>
<line x1="311.2" y1="489.4" x2="312.5" y2="489.4" stroke="#3a3a3a" stroke-width="0.6"/>
<line x1="311.2" y1="487.9" x2="312.5" y2="487.9" stroke="#3a3a3a" stroke-width="0.6"/>
<line x1="311.2" y1="486.57" x2="312.5" y2="486.57" stroke="#3a3a3a" stroke-width="0.6"/>
<line x1="310.9" y1="511.36" x2="312.5" y2="511.36" stroke="#3a3a3a" stroke-width="0.7"/>
<line x1="311.2" y1="529.52" x2="312.5" y2="529.52" stroke="#3a3a3a" stroke-width="0.6"/>
<line x1="311.2" y1="524.94" x2="312.5" y2="524.94" stroke="#3a3a3a" stroke-width="0.6"/>
<line x1="311.2" y1="521.7" x2="312.5" y2="521.7" stroke="#3a3a3a" stroke-width="0.6"/>
<line x1="311.2" y1="519.18" x2="312.5" y2="519.18" stroke="#3a3a3a" stroke-width="0.6"/>
<line x1="311.2" y1="517.12" x2="312.5" y2="517.12" stroke="#3a3a3a" stroke-width="0.6"/>
<line x1="311.2" y1="515.38" x2="312.5" y2="515.38" stroke="#3a3a3a" stroke-width="0.6"/>
<line x1="311.2" y1="513.88" x2="312.5" y2="513.88" stroke="#3a3a3a" stroke-width="0.6"/>
<line x1="311.2" y1="512.55" x2="312.5" y2="512.55" stroke="#3a3a3a" stroke-width="0.6"/>
<line x1="310.9" y1="537.34" x2="312.5" y2="537.34" stroke="#3a3a3a" stroke-width="0.7"/>
<line x1="311.2" y1="555.5" x2="312.5" y2="555.5" stroke="#3a3a3a" stroke-width="0.6"/>
<line x1="311.2" y1="550.92" x2="312.5" y2="550.92" stroke="#3a3a3a" stroke-width="0.6"/>
<line x1="311.2" y1="547.68" x2="312.5" y2="547.68" stroke="#3a3a3a" stroke-width="0.6"/>
<line x1="311.2" y1="545.16" x2="312.5" y2="545.16" stroke="#3a3a3a" stroke-width="0.6"/>
<line x1="311.2" y1="543.1" x2="312.5" y2="543.1" stroke="#3a3a3a" stroke-width="0.6"/>
<line x1="311.2" y1="541.36" x2="312.5" y2="541.36" stroke="#3a3a3a" stroke-width="0.6"/>
<line x1="311.2" y1="539.86" x2="312.5" y2="539.86" stroke="#3a3a3a" stroke-width="0.6"/>
<line x1="311.2" y1="538.53" x2="312.5" y2="538.53" stroke="#3a3a3a" stroke-width="0.6"/>
<line x1="310.9" y1="563.32" x2="312.5" y2="563.32" stroke="#3a3a3a" stroke-width="0.7"/>
<line x1="311.2" y1="581.48" x2="312.5" y2="581.48" stroke="#3a3a3a" stroke-width="0.6"/>
<line x1="311.2" y1="576.9" x2="312.5" y2="576.9" stroke="#3a3a3a" stroke-width="0.6"/>
<line x1="311.2" y1="573.66" x2="312.5" y2="573.66" stroke="#3a3a3a" stroke-width="0.6"/>
<line x1="311.2" y1="571.14" x2="312.5" y2="571.14" stroke="#3a3a3a" stroke-width="0.6"/>
<line x1="311.2" y1="569.08" x2="312.5" y2="569.08" stroke="#3a3a3a" stroke-width="0.6"/>
<line x1="311.2" y1="567.34" x2="312.5" y2="567.34" stroke="#3a3a3a" stroke-width="0.6"/>
<line x1="311.2" y1="565.84" x2="312.5" y2="565.84" stroke="#3a3a3a" stroke-width="0.6"/>
<line x1="311.2" y1="564.51" x2="312.5" y2="564.51" stroke="#3a3a3a" stroke-width="0.6"/>
<line x1="310.9" y1="589.3" x2="312.5" y2="589.3" stroke="#3a3a3a" stroke-width="0.7"/>
<line x1="311.2" y1="599.64" x2="312.5" y2="599.64" stroke="#3a3a3a" stroke-width="0.6"/>
<line x1="311.2" y1="597.12" x2="312.5" y2="597.12" stroke="#3a3a3a" stroke-width="0.6"/>
<line x1="311.2" y1="595.06" x2="312.5" y2="595.06" stroke="#3a3a3a" stroke-width="0.6"/>
<line x1="311.2" y1="593.32" x2="312.5" y2="593.32" stroke="#3a3a3a" stroke-width="0.6"/>
<line x1="311.2" y1="591.82" x2="312.5" y2="591.82" stroke="#3a3a3a" stroke-width="0.6"/>
<line x1="311.2" y1="590.49" x2="312.5" y2="590.49" stroke="#3a3a3a" stroke-width="0.6"/>
<line x1="365.7" y1="602.2" x2="365.7" y2="604.8" stroke="#3a3a3a" stroke-width="0.9"/>
<text x="355.77" y="620.2" font-size="17" fill="#000" stroke="#000" stroke-width="0.22" textLength="19.86" lengthAdjust="spacingAndGlyphs">40</text>
<line x1="424.6" y1="602.2" x2="424.6" y2="604.8" stroke="#3a3a3a" stroke-width="0.9"/>
<text x="414.67" y="620.2" font-size="17" fill="#000" stroke="#000" stroke-width="0.22" textLength="19.86" lengthAdjust="spacingAndGlyphs">50</text>
<line x1="483.5" y1="602.2" x2="483.5" y2="604.8" stroke="#3a3a3a" stroke-width="0.9"/>
<text x="473.57" y="620.2" font-size="17" fill="#000" stroke="#000" stroke-width="0.22" textLength="19.86" lengthAdjust="spacingAndGlyphs">60</text>
<line x1="336.2" y1="602.2" x2="336.2" y2="603.7" stroke="#3a3a3a" stroke-width="0.7"/>
<line x1="395.1" y1="602.2" x2="395.1" y2="603.7" stroke="#3a3a3a" stroke-width="0.7"/>
<line x1="454" y1="602.2" x2="454" y2="603.7" stroke="#3a3a3a" stroke-width="0.7"/>
<text x="352.42" y="635.3" font-size="17" fill="#000" stroke="#000" stroke-width="0.22" textLength="109.17" lengthAdjust="spacingAndGlyphs">B content (%)</text>
<text x="199.79" y="528" font-size="17" fill="#000" stroke="#000" stroke-width="0.22" textLength="150.02" lengthAdjust="spacingAndGlyphs" transform="rotate(-90 274.8 528)">Responsivity (A/W)</text>
<text x="300.7" y="439.2" font-size="17" fill="#000" stroke="#000" stroke-width="0.22" textLength="4.96" lengthAdjust="spacingAndGlyphs">f</text>
<polyline points="336.2,458.1 377.6,533.8 483.5,563.5" fill="none" stroke="#3d9ac0" stroke-width="1.2" stroke-linejoin="round" stroke-dasharray="3.8 2.3"/>
<polygon points="336.2,455.7 338.6,460.02 333.8,460.02" fill="#3d9ac0" stroke="none" stroke-width="1"/>
<polygon points="377.6,531.4 380,535.72 375.2,535.72" fill="#3d9ac0" stroke="none" stroke-width="1"/>
<polygon points="483.5,561.1 485.9,565.42 481.1,565.42" fill="#3d9ac0" stroke="none" stroke-width="1"/>
<polyline points="336.2,465.8 377.6,541.8 483.5,573.2" fill="none" stroke="#f4b450" stroke-width="1.2" stroke-linejoin="round" stroke-dasharray="3.8 2.3"/>
<polygon points="338.6,465.8 334.28,463.4 334.28,468.2" fill="#f4b450" stroke="none" stroke-width="1"/>
<polygon points="380,541.8 375.68,539.4 375.68,544.2" fill="#f4b450" stroke="none" stroke-width="1"/>
<polygon points="485.9,573.2 481.58,570.8 481.58,575.6" fill="#f4b450" stroke="none" stroke-width="1"/>
<polyline points="336.2,484.2 377.6,559.2 483.5,591.2" fill="none" stroke="#6c9a62" stroke-width="1.2" stroke-linejoin="round" stroke-dasharray="3.8 2.3"/>
<polygon points="336.2,486.6 338.6,482.28 333.8,482.28" fill="#6c9a62" stroke="none" stroke-width="1"/>
<polygon points="377.6,561.6 380,557.28 375.2,557.28" fill="#6c9a62" stroke="none" stroke-width="1"/>
<polygon points="483.5,593.6 485.9,589.28 481.1,589.28" fill="#6c9a62" stroke="none" stroke-width="1"/>
<line x1="446.2" y1="455.4" x2="461.5" y2="455.4" stroke="#3d9ac0" stroke-width="1.1" stroke-dasharray="3 2.6" opacity="0.7"/>
<polygon points="454,453.2 456.2,457.16 451.8,457.16" fill="#3d9ac0" stroke="none" stroke-width="1"/>
<text x="462.6" y="461.1" font-size="17" fill="#000" stroke="#000" stroke-width="0.22" textLength="41.68" lengthAdjust="spacingAndGlyphs">1.0 V</text>
<line x1="446.2" y1="471.2" x2="461.5" y2="471.2" stroke="#f4b450" stroke-width="1.1" stroke-dasharray="3 2.6" opacity="0.7"/>
<polygon points="456.2,471.2 452.24,469 452.24,473.4" fill="#f4b450" stroke="none" stroke-width="1"/>
<text x="462.6" y="476.5" font-size="17" fill="#000" stroke="#000" stroke-width="0.22" textLength="41.68" lengthAdjust="spacingAndGlyphs">0.5 V</text>
<line x1="446.2" y1="485.8" x2="461.5" y2="485.8" stroke="#6c9a62" stroke-width="1.1" stroke-dasharray="3 2.6" opacity="0.7"/>
<polygon points="454,488 456.2,484.04 451.8,484.04" fill="#6c9a62" stroke="none" stroke-width="1"/>
<text x="462.6" y="491.5" font-size="17" fill="#000" stroke="#000" stroke-width="0.22" textLength="41.68" lengthAdjust="spacingAndGlyphs">0.1 V</text>
<text x="41.9" y="14.2" font-size="16.5" fill="#000" stroke="#000" stroke-width="0.22" textLength="9.18" lengthAdjust="spacingAndGlyphs">a</text>
<text x="174.19" y="17" font-size="17" fill="#464b62" stroke="#464b62" stroke-width="0.25" textLength="40.22" lengthAdjust="spacingAndGlyphs">Ti/Ag</text>
<rect x="150.4" y="22.2" width="87.8" height="87.5" fill="#ecdce9" stroke="#cfc0cb" stroke-width="1.4" stroke-dasharray="5.4 2.6"/>
<text x="158.41" y="38.5" font-size="17" fill="#464b62" stroke="#464b62" stroke-width="0.25" textLength="75.77" lengthAdjust="spacingAndGlyphs">Electrode</text>
<rect x="215.7" y="42.3" width="3.6" height="4.2" fill="#464b62" stroke="none" stroke-width="1"/>
<rect x="169" y="85.5" width="3.6" height="4.4" fill="#464b62" stroke="none" stroke-width="1"/>
<polyline points="216.0,45.5 174.1,45.5 174.1,81.4" fill="none" stroke="#464b62" stroke-width="1.95" stroke-linejoin="round"/>
<polyline points="170.0,85.5 214.5,85.5 214.5,50.5" fill="none" stroke="#464b62" stroke-width="1.95" stroke-linejoin="round"/>
<line x1="174.1" y1="54.9" x2="210.5" y2="54.9" stroke="#464b62" stroke-width="1.95"/>
<line x1="174.1" y1="63.7" x2="210.5" y2="63.7" stroke="#464b62" stroke-width="1.95"/>
<line x1="174.1" y1="72.4" x2="210.5" y2="72.4" stroke="#464b62" stroke-width="1.95"/>
<line x1="174.1" y1="81.4" x2="210.5" y2="81.4" stroke="#464b62" stroke-width="1.95"/>
<line x1="178.2" y1="50.5" x2="214.5" y2="50.5" stroke="#464b62" stroke-width="1.95"/>
<line x1="178.2" y1="59.2" x2="214.5" y2="59.2" stroke="#464b62" stroke-width="1.95"/>
<line x1="178.2" y1="68" x2="214.5" y2="68" stroke="#464b62" stroke-width="1.95"/>
<line x1="178.2" y1="76.7" x2="214.5" y2="76.7" stroke="#464b62" stroke-width="1.95"/>
<line x1="149.3" y1="23.3" x2="79.3" y2="148.3" stroke="#111" stroke-width="1.4" stroke-dasharray="7.5 4.5"/>
<line x1="236.5" y1="113" x2="187.2" y2="171.5" stroke="#111" stroke-width="1.4" stroke-dasharray="7.5 4.5"/>
<text x="26.3" y="84.6" font-size="17" fill="#bd66ab" stroke="#bd66ab" stroke-width="0.3" textLength="87.11" lengthAdjust="spacingAndGlyphs">BSnO Film</text>
<line x1="70" y1="87.5" x2="70" y2="143" stroke="#111" stroke-width="1.3"/>
<polygon points="70,149 65.6,139.8 70,142.2 74.4,139.8" fill="#111" stroke="none" stroke-width="1"/>
<polygon points="59.4,148 91.5,180.8 91.5,189.8 59.4,157.3" fill="#234f50" stroke="none" stroke-width="1"/>
<polygon points="91.5,180.8 208.7,177 208.7,187.5 91.5,189.8" fill="#1c605e" stroke="none" stroke-width="1"/>
<polygon points="59.4,148 178.5,145.3 208.7,177 91.5,180.8" fill="#c768b0" stroke="none" stroke-width="1"/>
<line x1="91.5" y1="181.1" x2="208.7" y2="177.3" stroke="#6b2a5e" stroke-width="0.9"/>
<line x1="59.6" y1="148.3" x2="91.5" y2="181" stroke="#8a3a78" stroke-width="0.7"/>
<polygon points="79.5,148.8 164.8,147.8 187.7,171 102.8,172.6" fill="none" stroke="#35082e" stroke-width="1.4" stroke-dasharray="3.6 2.6"/>
<polygon points="108.1,154.4 148.8,153.5 158.1,165.3 114.4,166.2" fill="#505b56" stroke="none" stroke-width="1"/>
<line x1="110.86" y1="156.76" x2="149.16" y2="155.86" stroke="#66726b" stroke-width="0.6"/>
<line x1="112.12" y1="159.12" x2="151.02" y2="158.22" stroke="#66726b" stroke-width="0.6"/>
<line x1="113.38" y1="161.48" x2="152.88" y2="160.58" stroke="#66726b" stroke-width="0.6"/>
<line x1="114.64" y1="163.84" x2="154.74" y2="162.94" stroke="#66726b" stroke-width="0.6"/>
<line x1="108.3" y1="154.5" x2="114.6" y2="166.1" stroke="#b4bcb6" stroke-width="1.3"/>
<line x1="148.9" y1="153.6" x2="158" y2="165.2" stroke="#aab2ac" stroke-width="1.1"/>
<line x1="114.4" y1="166.6" x2="158.3" y2="165.7" stroke="#2f3835" stroke-width="1.0"/>
<rect x="113" y="164.6" width="4.4" height="3.2" fill="#9aa39d" stroke="none" stroke-width="1"/>
<rect x="148.6" y="152.8" width="3.4" height="2.2" fill="#7d8781" stroke="none" stroke-width="1"/>
<text x="74.52" y="204.6" font-size="17" fill="#20aaa4" stroke="#20aaa4" stroke-width="0.12" textLength="151.36" lengthAdjust="spacingAndGlyphs">Sapphire Substrate</text>
</svg>
</body></html>
